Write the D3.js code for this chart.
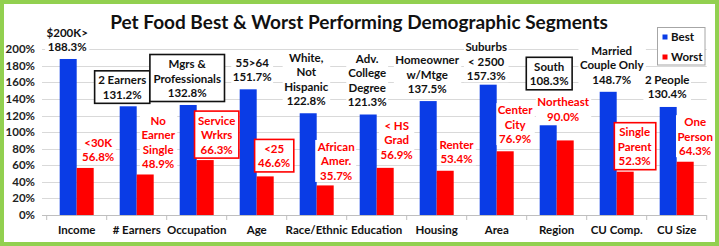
<!DOCTYPE html>
<html>
<head>
<meta charset="utf-8">
<script src="https://cdn.jsdelivr.net/npm/d3@7"></script>
<style>
  body { margin: 0; background: #fff; }
  svg text { font-family: Lato, "Open Sans", sans-serif; font-weight: bold; }
</style>
</head>
<body>
<div id="chart"></div>
<script>
// data
const categories = ['Income', '# Earners', 'Occupation', 'Age', 'Race/Ethnic', 'Education',
    'Housing', 'Area', 'Region', 'CU Comp.', 'CU Size'];
const best = [188.3, 131.2, 132.8, 151.7, 122.8, 121.3, 137.5, 157.3, 108.3, 148.7, 130.4];
const worst = [56.8, 48.9, 66.3, 46.6, 35.7, 56.9, 53.4, 76.9, 90.0, 52.3, 64.3];
const bestNames = [['$200K>'], ['2 Earners'], ['Mgrs &', 'Professionals'], ['55>64'],
    ['White,', 'Not', 'Hispanic'], ['Adv.', 'College', 'Degree'], ['Homeowner', 'w/Mtge'],
    ['Suburbs', '< 2500'], ['South'], ['Married', 'Couple Only'], ['2 People']];
const worstNames = [['<30K'], ['No', 'Earner', 'Single'], ['Service', 'Wrkrs'], ['<25'],
    ['African', 'Amer.'], ['< HS', 'Grad'], ['Renter'], ['Center', 'City'], ['Northeast'],
    ['Single', 'Parent'], ['One', 'Person']];
const yTicks = [0, 20, 40, 60, 80, 100, 120, 140, 160, 180, 200];
const seriesNames = ['Best', 'Worst'];

// label layout (box style, shift from bar centre, gap above bar top)
const bestBox = [0, 1, 1, 0, 0, 0, 0, 0, 1, 0, 0];
const worstBox = [0, 0, 1, 1, 0, 0, 0, 0, 0, 1, 0];
const bestDx = [-1, -6, -1, 4, -2, -1, -1, -2, 1, 3.5, -1];
const bestDy = [-12, -11.5, -12, -12, -12, -12.5, -12, -8.5, -44, -12, -12.5];
const worstDx = [13, 13, 11.5, 9, 11, 11.5, 11.3, 10, -2, 9.5, 10];
const worstDy = [-10.6, -10.2, -10.5, -13, -9.5, -13, -11.4, -12.2, -23.6, -10.5, -10.6];

const W = 719, H = 246;
const blue = '#0A3CE6', red = '#FF0000';
const fmt = d => d3.format('.1f')(d) + '%';

const svg = d3.select('#chart').append('svg')
    .attr('width', W).attr('height', H);

svg.append('rect')
    .attr('x', 2).attr('y', 2).attr('width', W - 4).attr('height', H - 4)
    .attr('fill', '#fff').attr('stroke', '#92D050').attr('stroke-width', 4);

const x = d3.scaleBand().domain(categories).range([46.7, 706.7]);
const y = d3.scaleLinear().domain([0, 200]).range([215, 49.3]);
const barW = 17;

// grid
svg.append('g').selectAll('line')
    .data(yTicks.slice(1))
    .enter().append('line')
    .attr('x1', 42).attr('x2', 706.7)
    .attr('y1', d => Math.round(y(d)) + 0.5).attr('y2', d => Math.round(y(d)) + 0.5)
    .attr('stroke', '#D9D9D9').attr('stroke-width', 1);

// y labels
svg.append('g').selectAll('text')
    .data(yTicks)
    .enter().append('text')
    .attr('x', 35).attr('y', d => y(d))
    .attr('dy', '0.35em')
    .attr('text-anchor', 'end')
    .attr('font-size', 11.5)
    .attr('fill', '#222')
    .text(d => d + '%');

// bars
const groups = svg.append('g').selectAll('g')
    .data(categories)
    .enter().append('g');

groups.append('rect')
    .attr('x', d => x(d) + x.bandwidth() / 2 - barW)
    .attr('y', (d, i) => y(best[i]))
    .attr('width', barW)
    .attr('height', (d, i) => y(0) - y(best[i]))
    .attr('fill', blue);

groups.append('rect')
    .attr('x', d => x(d) + x.bandwidth() / 2)
    .attr('y', (d, i) => y(worst[i]))
    .attr('width', barW)
    .attr('height', (d, i) => y(0) - y(worst[i]))
    .attr('fill', red);

// x axis
svg.append('line')
    .attr('x1', 42).attr('x2', 706.7).attr('y1', 215.5).attr('y2', 215.5)
    .attr('stroke', '#BFBFBF');
svg.append('g').selectAll('line')
    .data(categories.concat(['end']))
    .enter().append('line')
    .attr('x1', (d, i) => 46.7 + i * x.bandwidth()).attr('x2', (d, i) => 46.7 + i * x.bandwidth())
    .attr('y1', 215).attr('y2', 220)
    .attr('stroke', '#BFBFBF');

svg.append('g').selectAll('text')
    .data(categories)
    .enter().append('text')
    .attr('x', d => x(d) + x.bandwidth() / 2)
    .attr('y', 230)
    .attr('dy', '0.35em')
    .attr('text-anchor', 'middle')
    .attr('font-size', 11.5)
    .attr('fill', '#111')
    .text(d => d);

// data labels
let drawLabel = function (lines, cx, cyLast, color, boxed, boxColor) {
    const g = svg.append('g');
    const lh = 14.5;
    const t = g.append('text')
        .attr('text-anchor', 'middle')
        .attr('font-size', 11.5)
        .attr('fill', color);
    lines.forEach((s, k) => {
        t.append('tspan')
            .attr('x', cx)
            .attr('y', cyLast - (lines.length - 1 - k) * lh)
            .attr('dy', '0.35em')
            .text(s);
    });
    const bb = t.node().getBBox();
    const padX = boxed ? 3.5 : 1.5, padY = boxed ? 2.5 : 0;
    g.insert('rect', 'text')
        .attr('x', bb.x - padX).attr('y', bb.y - padY)
        .attr('width', bb.width + 2 * padX).attr('height', bb.height + 2 * padY)
        .attr('fill', '#fff')
        .attr('stroke', boxed ? boxColor : 'none')
        .attr('stroke-width', 1.6);
}

categories.forEach((c, i) => {
    const bc = x(c) + x.bandwidth() / 2 - barW / 2;
    const rc = x(c) + x.bandwidth() / 2 + barW / 2;
    drawLabel(bestNames[i].concat([fmt(best[i])]), bc + bestDx[i], y(best[i]) + bestDy[i],
        '#111', bestBox[i], '#111');
    drawLabel(worstNames[i].concat([fmt(worst[i])]), rc + worstDx[i], y(worst[i]) + worstDy[i],
        red, worstBox[i], red);
});

// title
svg.append('text')
    .attr('x', 359).attr('y', 29)
    .attr('text-anchor', 'middle')
    .attr('font-size', 19)
    .attr('fill', '#111')
    .text('Pet Food Best & Worst Performing Demographic Segments');

// legend
const lg = svg.append('g');
lg.append('rect')
    .attr('x', 657.5).attr('y', 27.5).attr('width', 47.5).attr('height', 37.5)
    .attr('fill', '#fff').attr('stroke', '#A6A6A6');
lg.selectAll('rect.key')
    .data(seriesNames)
    .enter().append('rect')
    .attr('class', 'key')
    .attr('x', 662.5).attr('y', (d, i) => 34.5 + i * 20)
    .attr('width', 5).attr('height', 5)
    .attr('fill', (d, i) => i ? red : blue);
lg.selectAll('text')
    .data(seriesNames)
    .enter().append('text')
    .attr('x', 671).attr('y', (d, i) => 37 + i * 20)
    .attr('dy', '0.35em')
    .attr('font-size', 11.5)
    .attr('fill', '#111')
    .text(d => d);
</script>
</body>
</html>
